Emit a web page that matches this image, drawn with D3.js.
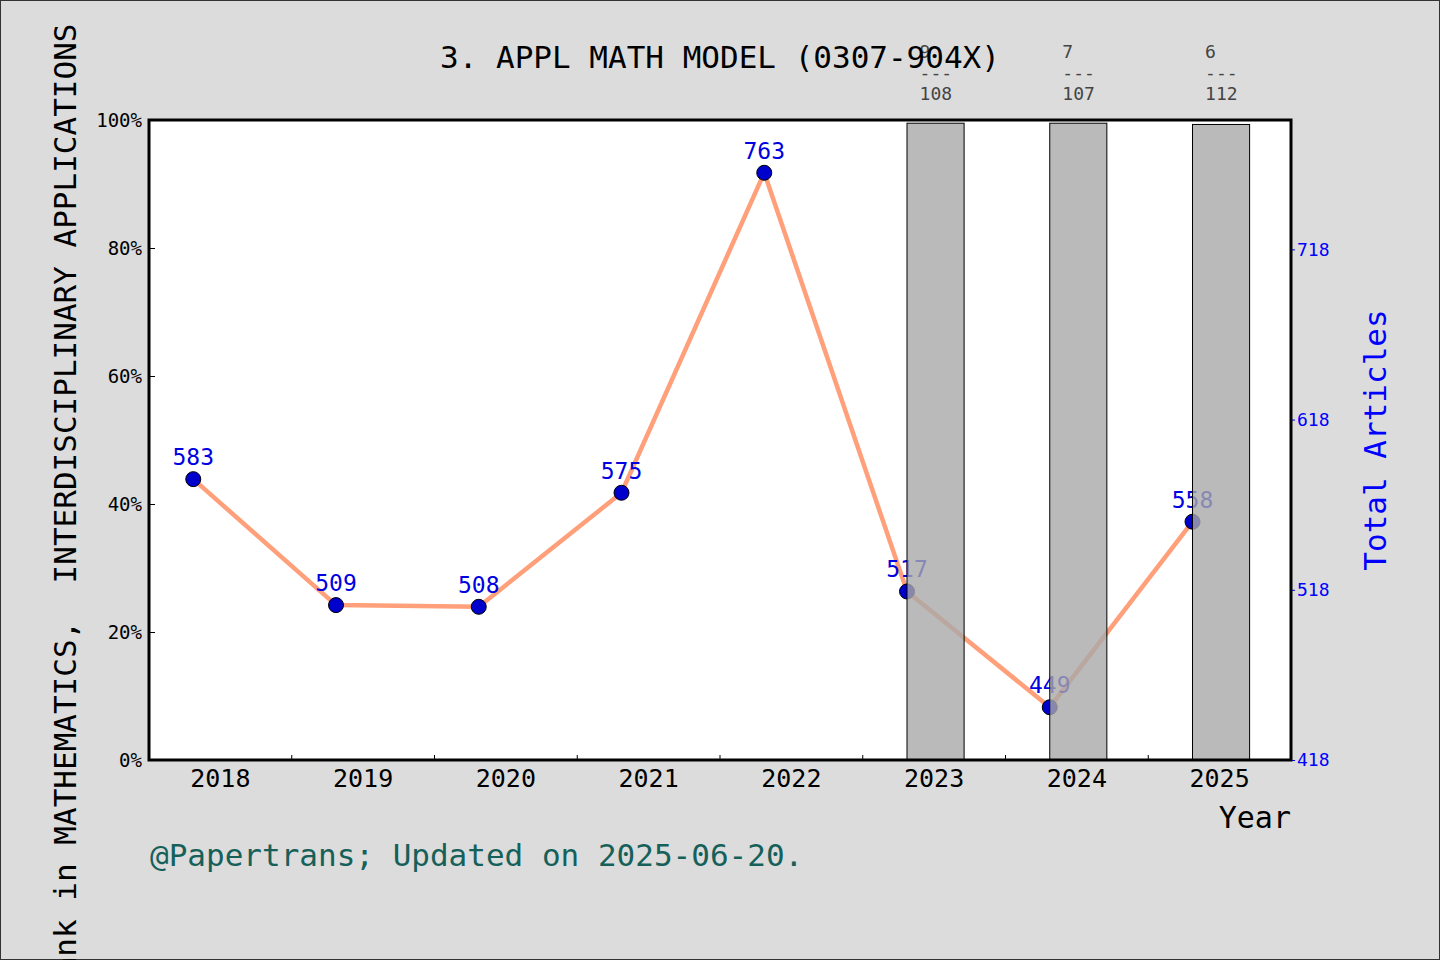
<!DOCTYPE html>
<html>
<head>
<meta charset="utf-8">
<script src="https://cdn.jsdelivr.net/npm/d3@7"></script>
<style>
  body { margin: 0; background: #dcdcdc; }
  text { font-family: "DejaVu Sans Mono", monospace; }
</style>
</head>
<body>
<div id="chart"></div>
<script>
// data
var years = ["2018", "2019", "2020", "2021", "2022", "2023", "2024", "2025"];
var articles = [583, 509, 508, 575, 763, 517, 449, 558];
var barYears = ["2023", "2024", "2025"];
var barValues = [0.995, 0.995, 0.993];
var ranks = [9, 7, 6];
var totals = [108, 107, 112];
var pctTicks = [0, 0.2, 0.4, 0.6, 0.8, 1.0];
var articleTicks = [418, 518, 618, 718];

var W = 1440, H = 960;
var margin = {top: 120, right: 149, bottom: 200, left: 149},
    width = W - margin.left - margin.right,
    height = H - margin.top - margin.bottom;

var svg = d3.select("#chart").append("svg")
    .attr("width", W)
    .attr("height", H);

svg.append("rect")
    .attr("x", 0.5).attr("y", 0.5)
    .attr("width", W - 1).attr("height", H - 1)
    .attr("fill", "#dcdcdc")
    .attr("stroke", "#333");

var g = svg.append("g")
    .attr("transform", "translate(" + margin.left + "," + margin.top + ")");

/* Scales */
var x = d3.scaleBand().domain(years).range([0, width]).padding(0);
var bw = x.bandwidth();
var yPct = d3.scaleLinear().domain([0, 1]).range([height, 0]);
var yArt = d3.scaleLinear().domain([418, 794]).range([height, 0]);

var px = d => x(d) + bw / 2 - 0.19 * bw;

g.append("rect")
    .attr("width", width).attr("height", height)
    .attr("fill", "#fff");

/* line + points */
var pts = years.map((d, i) => ({year: d, value: articles[i]}));

var line = d3.line()
    .x(d => px(d.year))
    .y(d => yArt(d.value));

g.append("path")
    .datum(pts)
    .attr("d", line)
    .attr("fill", "none")
    .attr("stroke", "#ffa07a")
    .attr("stroke-width", 4.5);

g.selectAll(".pt")
    .data(pts).enter()
    .append("circle")
    .attr("class", "pt")
    .attr("cx", d => px(d.year))
    .attr("cy", d => yArt(d.value))
    .attr("r", 7.5)
    .attr("fill", "#0000cd")
    .attr("stroke", "#000")
    .attr("stroke-width", 1);

g.selectAll(".ptlabel")
    .data(pts).enter()
    .append("text")
    .attr("class", "ptlabel")
    .attr("x", d => px(d.year))
    .attr("y", d => yArt(d.value) - 14)
    .attr("text-anchor", "middle")
    .attr("fill", "#0000e0")
    .style("font-size", "23px")
    .text(d => d.value);

/* bars, semi transparent on top */
var bars = barYears.map((d, i) => ({year: d, value: barValues[i], rank: ranks[i], total: totals[i]}));

g.selectAll(".bar")
    .data(bars).enter()
    .append("rect")
    .attr("class", "bar")
    .attr("x", d => px(d.year))
    .attr("y", d => yPct(d.value))
    .attr("width", 0.4 * bw)
    .attr("height", d => height - yPct(d.value))
    .attr("fill", "rgba(169,169,169,0.8)")
    .attr("stroke", "#000")
    .attr("stroke-width", 1);

/* axes */
var xAxis = d3.axisBottom(x).tickSize(0).tickPadding(0);
var gx = g.append("g")
    .attr("transform", "translate(0," + height + ")")
    .call(xAxis);
gx.select(".domain").remove();
gx.selectAll("text")
    .attr("y", 27)
    .attr("dy", 0)
    .attr("fill", "#000")
    .style("font-size", "25px");

// minor ticks between years, pointing inward
g.selectAll(".minor")
    .data(years.slice(1)).enter()
    .append("line")
    .attr("x1", d => x(d)).attr("x2", d => x(d))
    .attr("y1", height).attr("y2", height - 5)
    .attr("stroke", "#000");

var yAxis = d3.axisLeft(yPct).tickValues(pctTicks)
    .tickFormat(d3.format(".0%")).tickSize(-6).tickPadding(7);
var gy = g.append("g").call(yAxis);
gy.select(".domain").remove();
gy.selectAll("text")
    .attr("fill", "#000")
    .style("font-size", "19px");
gy.selectAll("line").attr("stroke", "#000");

var yAxisR = d3.axisRight(yArt).tickValues(articleTicks).tickSize(4).tickPadding(2);
var gr = g.append("g")
    .attr("transform", "translate(" + width + ",0)")
    .call(yAxisR);
gr.select(".domain").remove();
gr.selectAll("line").attr("stroke", "#0000ff");
gr.selectAll("text")
    .attr("fill", "#0000ff")
    .style("font-size", "18px");

// frame
g.append("rect")
    .attr("width", width).attr("height", height)
    .attr("fill", "none")
    .attr("stroke", "#000")
    .attr("stroke-width", 3);

/* rank / total labels above bars */
var lab = svg.selectAll(".barlab")
    .data(bars).enter()
    .append("text")
    .attr("class", "barlab")
    .attr("fill", "#444")
    .style("font-size", "18px");
lab.each(function(d) {
    var t = d3.select(this);
    var x0 = margin.left + px(d.year) + 0.2 * bw - 16;
    [String(d.rank), "---", String(d.total)].forEach(function(s, k) {
        t.append("tspan").attr("x", x0).attr("y", 58 + k * 21).text(s);
    });
});

/* titles */
svg.append("text")
    .attr("x", W / 2).attr("y", 68)
    .attr("text-anchor", "middle")
    .attr("fill", "#000")
    .style("font-size", "31px")
    .text("3. APPL MATH MODEL (0307-904X)");

svg.append("text")
    .attr("x", margin.left + width).attr("y", 828)
    .attr("text-anchor", "end")
    .attr("fill", "#000")
    .style("font-size", "30px")
    .text("Year");

svg.append("text")
    .attr("transform", "translate(76,994) rotate(-90)")
    .attr("text-anchor", "start")
    .attr("fill", "#000")
    .style("font-size", "31px")
    .style("white-space", "pre")
    .text("Rank in MATHEMATICS,  INTERDISCIPLINARY APPLICATIONS -");

svg.append("text")
    .attr("transform", "translate(1386," + (margin.top + height / 2) + ") rotate(-90)")
    .attr("text-anchor", "middle")
    .attr("fill", "#0000ff")
    .style("font-size", "31px")
    .text("Total Articles");

svg.append("text")
    .attr("x", 150).attr("y", 866)
    .attr("fill", "#16605a")
    .style("font-size", "31px")
    .text("@Papertrans; Updated on 2025-06-20.");
</script>
</body>
</html>
